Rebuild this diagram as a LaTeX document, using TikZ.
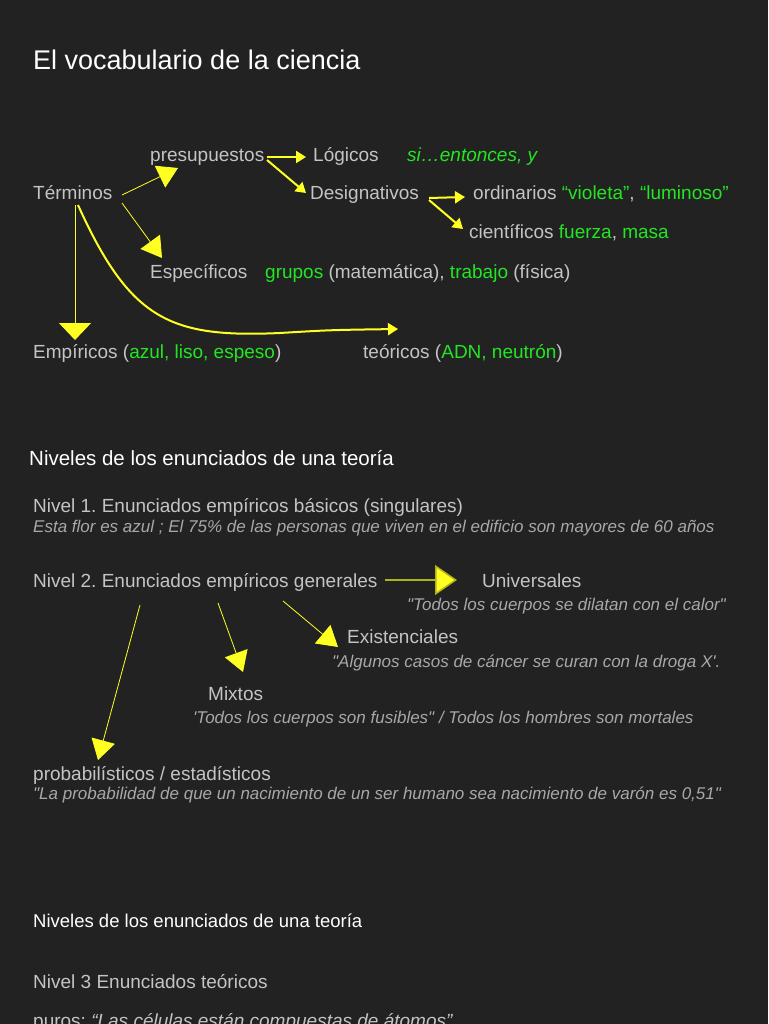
\documentclass[tikz,border=0pt]{standalone}
\usepackage{fontspec}
\setmainfont{Liberation Sans}[Ligatures=TeXOff]
\usetikzlibrary{arrows.meta}
\definecolor{bg}{HTML}{222222}
\definecolor{tx}{HTML}{C4C4C4}
\definecolor{qt}{HTML}{A8A8A8}
\definecolor{gr}{HTML}{22E622}
\definecolor{yl}{HTML}{FFFF22}
\newcommand{\g}[1]{\textcolor{gr}{#1}}
\frenchspacing
\begin{document}
\begin{tikzpicture}[x=1pt,y=-1pt,
  lbl/.style={anchor=base west,inner sep=0pt,text=tx,font=\fontsize{19}{22}\selectfont},
  qte/.style={anchor=base west,inner sep=0pt,text=qt,font=\fontsize{17}{20}\selectfont\itshape},
  head/.style={anchor=base west,inner sep=0pt,text=white,font=\fontsize{20.5}{24}\selectfont},
  yarr/.style={draw=yl,line width=0.8pt,-{Triangle[length=20pt,width=24pt]}},
  sarr/.style={draw=yl,line width=2pt,-{Triangle[length=10pt,width=12pt]}}]
\fill[bg] (0,0) rectangle (768,1024);
\clip (0,0) rectangle (768,1024);
\node[head,font=\fontsize{27}{30}\selectfont] (title) at (33,70) {El vocabulario de la ciencia};
\node[lbl] (pre) at (150,162) {presupuestos};
\node[lbl] (log) at (313,162) {Lógicos};
\node[lbl,text=gr,font=\fontsize{19}{22}\selectfont\itshape] (si) at (407,162) {si…entonces, y};
\node[lbl] (ter) at (33,200) {Términos};
\node[lbl] (des) at (310,200) {Designativos};
\node[lbl] (ord) at (473,200) {ordinarios \g{“violeta”}, \g{“luminoso”}};
\node[lbl] (cie) at (469,239) {científicos \g{fuerza}, \g{masa}};
\node[lbl] (esp) at (150,278) {Específicos};
\node[lbl] (gru) at (265,278) {\g{grupos} (matemática), \g{trabajo} (física)};
\node[lbl] (emp) at (33,358) {Empíricos (\g{azul, liso, espeso})};
\node[lbl] (teo) at (363,358) {teóricos (\g{ADN, neutrón})};

\coordinate (a1) at (122,195); \coordinate (b1) at (178,168);
\draw[yarr] (a1) -- (b1);
\coordinate (a2) at (122,203); \coordinate (b2) at (162,258);
\draw[yarr] (a2) -- (b2);
\coordinate (a3) at (267,157); \coordinate (b3) at (306,157);
\draw[sarr] (a3) -- (b3);
\coordinate (a4) at (267,160); \coordinate (b4) at (306,193);
\draw[sarr] (a4) -- (b4);
\coordinate (a5) at (429,198); \coordinate (b5) at (465,197);
\draw[sarr] (a5) -- (b5);
\coordinate (a6) at (429,200); \coordinate (b6) at (463,229);
\draw[sarr] (a6) -- (b6);
\coordinate (a7) at (75,205); \coordinate (b7) at (75,340);
\draw[draw=yl,line width=0.8pt,-{Triangle[length=17pt,width=32pt]}] (a7) -- (b7);
\coordinate (a8) at (78,205); \coordinate (b8) at (398,329);
\draw[draw=yl,line width=2pt,-{Triangle[length=10pt,width=12pt]}] (a8) .. controls (130,320) and (170,338) .. (280,333) .. controls (330,330) .. (b8);

\node[head] (niv) at (29,465) {Niveles de los enunciados de una teoría};
\node[lbl] (n1) at (33,512) {Nivel 1. Enunciados empíricos básicos (singulares)};
\node[qte] (q1) at (33,532) {Esta flor es azul ; El 75\% de las personas que viven en el edificio son mayores de 60 años};
\node[lbl] (n2) at (33,587) {Nivel 2. Enunciados empíricos generales};
\node[lbl] (uni) at (482,587) {Universales};
\node[qte] (qu) at (407,610) {"Todos los cuerpos se dilatan con el calor"};
\node[qte] (qe) at (332,667) {"Algunos casos de cáncer se curan con la droga X'.};
\node[lbl] (exi) at (347,643) {Existenciales};
\node[lbl] (mix) at (208,700) {Mixtos};
\node[qte] (qm) at (193,723) {'Todos los cuerpos son fusibles" / Todos los hombres son mortales};
\node[lbl] (pro) at (33,780) {probabilísticos / estadísticos};
\node[qte] (qp) at (33,799) {"La probabilidad de que un nacimiento de un ser humano sea nacimiento de varón es 0,51"};

\coordinate (c1) at (385,580); \coordinate (d1) at (457,580);
\draw[draw=yl!70!black,line width=1.5pt,-{Triangle[length=22pt,width=30pt,fill=yl]}] (c1) -- (d1);
\coordinate (c2) at (283,601); \coordinate (d2) at (338,647);
\draw[yarr] (c2) -- (d2);
\coordinate (c3) at (218,603); \coordinate (d3) at (243,672);
\draw[yarr] (c3) -- (d3);
\coordinate (c4) at (140,605); \coordinate (d4) at (98,760);
\draw[yarr] (c4) -- (d4);

\node[head,font=\fontsize{18.5}{22}\selectfont] (niv2) at (33,927) {Niveles de los enunciados de una teoría};
\node[lbl] (n3) at (33,988) {Nivel 3 Enunciados teóricos};
\node[lbl] (pur) at (33,1027) {puros: \itshape “Las células están compuestas de átomos”};
\end{tikzpicture}
\end{document}
